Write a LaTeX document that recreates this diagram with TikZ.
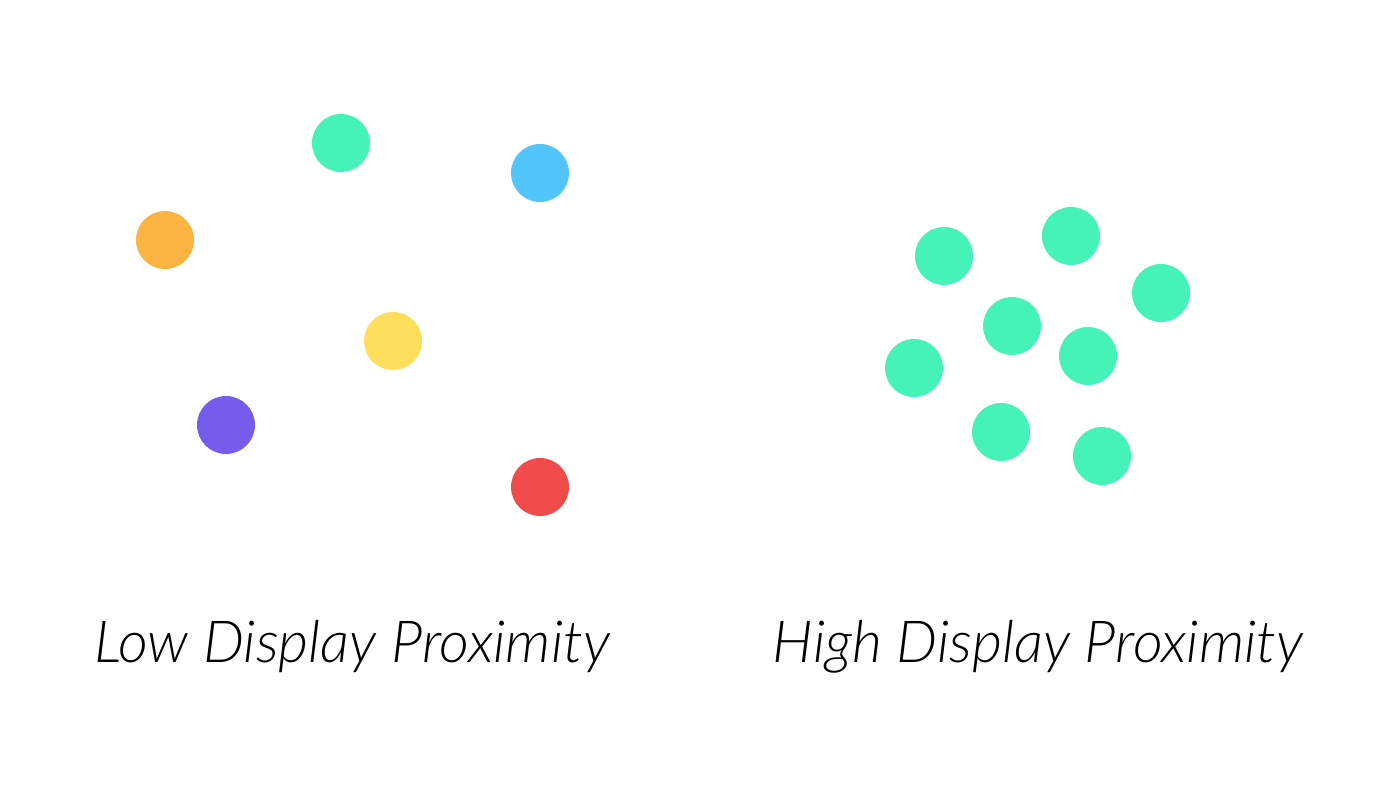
\documentclass[tikz,border=0pt]{standalone}
\usepackage{fontspec}
\setmainfont{Lato}
\newfontfamily\lightfont{Lato Light Italic}
\definecolor{cteal}{HTML}{45F2B8}
\definecolor{cblue}{HTML}{52C5FA}
\definecolor{corange}{HTML}{FBB442}
\definecolor{cyellow}{HTML}{FEDE5A}
\definecolor{cpurple}{HTML}{765CED}
\definecolor{cred}{HTML}{F04A4A}
\begin{document}
\begin{tikzpicture}[x=0.5pt,y=-0.5pt,
  dot/.style={circle,minimum size=29pt,inner sep=0pt,draw=none},
  lbl/.style={font=\fontsize{29}{33}\lightfont\selectfont,text=black,inner sep=0pt}]
\useasboundingbox (0,0) rectangle (1400,788);
\fill[white] (0,0) rectangle (1400,788);
% left
\node[dot,fill=cteal] (l1) at (341,143) {};
\node[dot,fill=cblue] (l2) at (540,173) {};
\node[dot,fill=corange] (l3) at (165,240) {};
\node[dot,fill=cyellow] (l4) at (393,341) {};
\node[dot,fill=cpurple] (l5) at (226,425) {};
\node[dot,fill=cred] (l6) at (540,487) {};
% right
\node[dot,fill=cteal] (r1) at (944,256) {};
\node[dot,fill=cteal] (r2) at (1071,236) {};
\node[dot,fill=cteal] (r3) at (1161,293) {};
\node[dot,fill=cteal] (r4) at (1012,326) {};
\node[dot,fill=cteal] (r5) at (1088,356) {};
\node[dot,fill=cteal] (r6) at (914,368) {};
\node[dot,fill=cteal] (r7) at (1001,432) {};
\node[dot,fill=cteal] (r8) at (1102,456) {};
% labels
\node[lbl,anchor=base] (t1) at (352,662) {Low Display Proximity};
\node[lbl,anchor=base] (t2) at (1038,662) {High Display Proximity};
\end{tikzpicture}
\end{document}
